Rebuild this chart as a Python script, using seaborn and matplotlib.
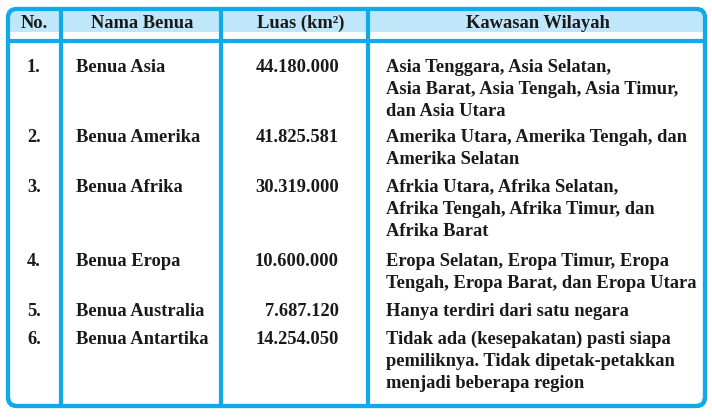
import matplotlib
matplotlib.use("Agg")
import matplotlib.pyplot as plt
from matplotlib.patches import FancyBboxPatch, Rectangle
import seaborn as sns

sns.set_theme(style="white")
plt.rcParams['font.family'] = ['Liberation Serif', 'DejaVu Serif']

headers = ["No.", "Nama Benua", "Luas (km²)", "Kawasan Wilayah"]
numbers = ["1.", "2.", "3.", "4.", "5.", "6."]
names = ["Benua Asia", "Benua Amerika", "Benua Afrika", "Benua Eropa",
         "Benua Australia", "Benua Antartika"]
areas = ["44.180.000", "41.825.581", "30.319.000", "10.600.000",
         "7.687.120", "14.254.050"]
regions = [
    ["Asia Tenggara, Asia Selatan,", "Asia Barat, Asia Tengah, Asia Timur,", "dan Asia Utara"],
    ["Amerika Utara, Amerika Tengah, dan", "Amerika Selatan"],
    ["Afrkia Utara, Afrika Selatan,", "Afrika Tengah, Afrika Timur, dan", "Afrika Barat"],
    ["Eropa Selatan, Eropa Timur, Eropa", "Tengah, Eropa Barat, dan Eropa Utara"],
    ["Hanya terdiri dari satu negara"],
    ["Tidak ada (kesepakatan) pasti siapa", "pemiliknya. Tidak dipetak-petakkan", "menjadi beberapa region"],
]
row_tops = [67, 137, 187, 261, 311, 339]

blue = "#11a9e8"
ink = "#1a1a1a"
fs = 13.3
fig = plt.figure(figsize=(7.12, 4.2), dpi=100)
ax = fig.add_axes([0, 0, 1, 1])
ax.set_xlim(0, 712)
ax.set_ylim(420, 0)
ax.axis("off")

box = FancyBboxPatch((8, 9), 697, 397, boxstyle="round,pad=0,rounding_size=9",
                     fc="white", ec=blue, lw=3, zorder=1)
ax.add_patch(box)
hdr = Rectangle((0, 0), 712, 32, fc="#bfe6f9", ec="none", zorder=2)
ax.add_patch(hdr)
hdr.set_clip_path(box)
ax.add_patch(FancyBboxPatch((8, 9), 697, 397, boxstyle="round,pad=0,rounding_size=9",
                            fc="none", ec=blue, lw=3, zorder=5))
ax.plot([8, 705], [41, 41], color=blue, lw=3, zorder=5)
for x in [61, 221, 368]:
    ax.plot([x, x], [9, 406], color=blue, lw=3, zorder=5)

hx = [34, 142, 301, 538]
for x, h in zip(hx, headers):
    ax.text(x, 23, h, ha="center", va="center", fontsize=fs, fontweight="bold", color=ink)

for i in range(len(numbers)):
    y = row_tops[i]
    ax.text(34, y, numbers[i], ha="center", va="center", fontsize=fs, fontweight="bold", color=ink)
    ax.text(76, y, names[i], ha="left", va="center", fontsize=fs, fontweight="bold", color=ink)
    ax.text(339, y, areas[i], ha="right", va="center", fontsize=fs, fontweight="bold", color=ink)
    for j, line in enumerate(regions[i]):
        ax.text(386, y + 22 * j, line, ha="left", va="center", fontsize=fs,
                fontweight="bold", color=ink)

fig.savefig("out.png", dpi=100)
